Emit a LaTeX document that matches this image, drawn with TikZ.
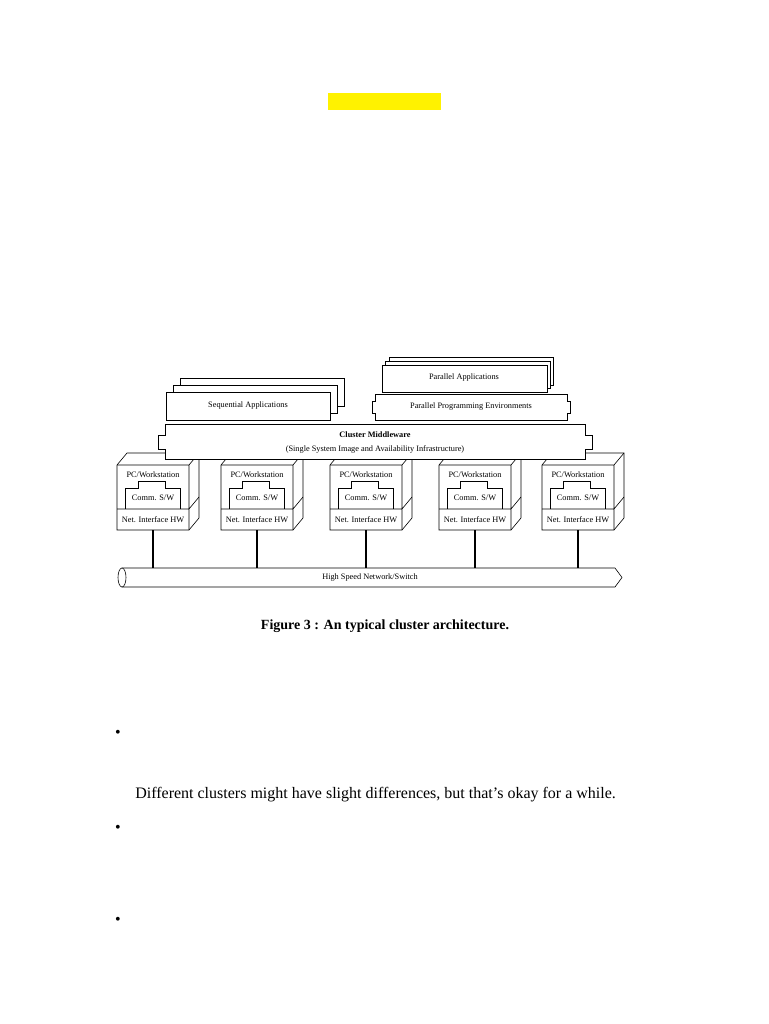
\documentclass[tikz,border=0pt]{standalone}
\usepackage{fontspec}
\setmainfont{Liberation Serif}
\begin{document}
\begin{tikzpicture}[x=1pt,y=-1pt,line width=0.6pt,
  lbl/.style={font=\fontsize{8.3}{10}\selectfont,inner sep=0pt},
  box/.style={draw,fill=white},
  pipe/.style={line width=2.2pt}]
\useasboundingbox (0,0) rectangle (768,1024);
\fill[yellow] (328,93) rectangle (441,110);
% PCs
\foreach \x/\n in {117/a,221/b,330/c,439/d,542/e}{
  \begin{scope}[shift={(\x,0)}]
  \draw[box] (0,465) -- (10,453) -- (82,453) -- (82,518) -- (72,530) -- (0,530) -- cycle;
  \draw (0,465) -- (72,465) -- (82,453) (72,465) -- (72,530) (0,509) -- (72,509) -- (82,497);
  \node[lbl] (pc\n) at (36,475) {PC/Workstation};
  \draw (8,509) -- (8,488) -- (21,488) -- (21,481) -- (48,481) -- (48,488) -- (63,488) -- (63,509);
  \node[lbl] (cs\n) at (36,498) {Comm. S/W};
  \node[lbl] (ni\n) at (36,520) {Net. Interface HW};
  \coordinate (bot\n) at (36,530);
  \coordinate (top\n) at (36,568);
  \end{scope}
  \draw[pipe] (bot\n) -- (top\n);
}
% Sequential applications (stacked)
\draw[box] (180,378) rectangle (344,406);
\draw[box] (173,385) rectangle (337,413);
\draw[box] (166,392) rectangle (330,420);
\node[lbl] (seq) at (248,406) {Sequential Applications};
% Parallel applications (stacked)
\draw[box] (389,357) rectangle (553,385);
\draw[box] (385,361) rectangle (550,388);
\draw[box] (382,365) rectangle (547,392);
\node[lbl] (papp) at (464,378) {Parallel Applications};
% Parallel programming environments
\draw[box] (375,394) -- (567,394) -- (567,401) -- (570,401) -- (570,413) -- (567,413) -- (567,420) -- (375,420) -- (375,413) -- (372,413) -- (372,401) -- (375,401) -- cycle;
\node[lbl] (ppe) at (471,407) {Parallel Programming Environments};
% Cluster middleware
\draw[box] (165,424) -- (585,424) -- (585,435) -- (592,435) -- (592,449) -- (585,449) -- (585,459) -- (165,459) -- (165,449) -- (158,449) -- (158,435) -- (165,435) -- cycle;
\node[lbl,font=\fontsize{8.3}{10}\selectfont\bfseries] (cm) at (375,435) {Cluster Middleware};
\node[lbl] (cm2) at (375,449) {(Single System Image and Availability Infrastructure)};
% Network
\draw[box] (122,568) -- (615,568) -- (622,577.5) -- (615,587) -- (122,587) -- cycle;
\draw[fill=white] (122,577.5) ellipse (4 and 9.5);
\node[lbl] (net) at (370,578) {High Speed Network/Switch};
\node[font=\bfseries\fontsize{14}{16}\selectfont] (cap) at (385,626) {Figure 3 : An typical cluster architecture.};
\node[font=\fontsize{16}{18}\selectfont] (b1) at (118,734) {•};
\node[font=\fontsize{16}{18}\selectfont] (b2) at (118,829) {•};
\node[font=\fontsize{16}{18}\selectfont] (b3) at (118,921) {•};
\node[font=\fontsize{16}{18}\selectfont,anchor=west,inner sep=0pt] (txt) at (135,795) {Different clusters might have slight differences, but that’s okay for a while.};
\end{tikzpicture}
\end{document}
